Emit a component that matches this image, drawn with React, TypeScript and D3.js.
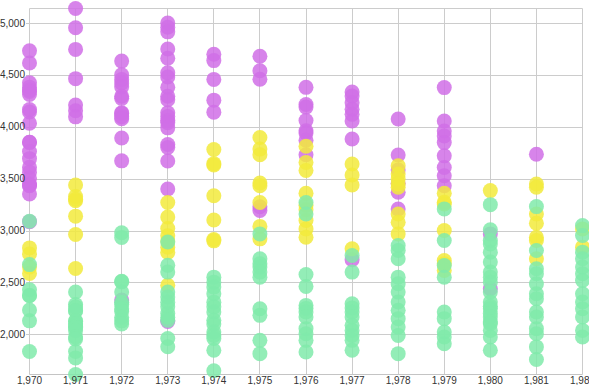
import React from 'react';
import * as d3 from 'd3';

const years = [1970, 1971, 1972, 1973, 1974, 1975, 1976, 1977, 1978, 1979, 1980, 1981, 1982];
const yTicks = [2000, 2500, 3000, 3500, 4000, 4500, 5000];

// weights per year (index aligned with years)
const purpleWeights: number[][] = [
  [4732, 4615, 4425, 4382, 4354, 4341, 4312, 4166, 4142, 4034, 3850, 3850, 3761, 3693, 3609, 3563, 3504, 3449, 3436, 3433, 3353, 3086],
  [5140, 4955, 4746, 4464, 4209, 4154, 4096],
  [4633, 4502, 4456, 4422, 4385, 4294, 4274, 4135, 4129, 4098, 4077, 3892, 3672, 2330],
  [5000, 4960, 4915, 4750, 4660, 4520, 4480, 4380, 4295, 4260, 4135, 4100, 4060, 4040, 3990, 3830, 3800, 3670, 3400, 2124],
  [4699, 4638, 4457, 4257, 4141],
  [4680, 4540, 4458, 3230, 3193],
  [4380, 4215, 4190, 4060, 3962, 3940, 3870, 3730],
  [4335, 4296, 4232, 4168, 4120, 4056, 3882, 2720],
  [4075, 3728, 3584, 3456, 3369, 3208],
  [4378, 4056, 3960, 3912, 3848, 3720, 3608, 3528, 3432],
  [2968, 2439],
  [3735],
  [],
];

const yellowWeights: number[][] = [
  [2833, 2774, 2648, 2587],
  [3439, 3329, 3302, 3288, 3139, 2962, 2634],
  [],
  [3270, 3130, 3020, 2950, 2900, 2840, 2790, 2472],
  [3781, 3645, 3632, 3336, 3102, 2914, 2901],
  [3897, 3785, 3730, 3459, 3432, 3270, 3040, 2920],
  [3813, 3657, 3580, 3360, 3245, 3200, 3097, 3016, 2936],
  [3641, 3535, 3439, 2824],
  [3625, 3545, 3500, 3449, 3417, 3160, 3080, 2968],
  [3359, 3272, 3256, 3000, 2712, 2680, 2616],
  [3385],
  [3449, 3417, 3160, 3070, 2936, 2904, 2728],
  [3016, 2840],
];

const greenWeights: number[][] = [
  [3090, 2672, 2430, 2375, 2372, 2234, 2130, 1835],
  [2408, 2288, 2264, 2228, 2226, 2130, 2126, 2100, 2074, 2065, 2035, 1975, 1955, 1834, 1773, 1613],
  [2979, 2933, 2511, 2506, 2408, 2310, 2288, 2246, 2220, 2164, 2130, 2100],
  [2890, 2665, 2600, 2407, 2360, 2310, 2265, 2200, 2165, 2135, 1960, 1880],
  [2551, 2503, 2455, 2391, 2310, 2265, 2215, 2135, 2100, 2022, 1990, 1960, 1846, 1649],
  [2968, 2728, 2680, 2648, 2600, 2551, 2247, 2183, 1942, 1814],
  [3270, 3160, 2577, 2462, 2279, 2250, 2215, 2167, 2055, 2006, 1942, 1830],
  [2760, 2600, 2295, 2255, 2215, 2167, 2087, 2038, 1990, 1942, 1846],
  [2856, 2808, 2728, 2551, 2487, 2407, 2311, 2231, 2151, 2070, 1990, 1814],
  [3209, 2904, 2664, 2551, 2215, 2151, 2022, 1974, 1910],
  [3250, 3007, 2904, 2870, 2792, 2696, 2600, 2551, 2503, 2407, 2311, 2270, 2247, 2200, 2167, 2120, 2103, 2038, 1974, 1846],
  [3231, 2808, 2632, 2584, 2487, 2391, 2343, 2215, 2167, 2055, 2006, 1879, 1757],
  [3048, 2952, 2792, 2728, 2648, 2584, 2519, 2391, 2311, 2247, 2167, 2038, 1974],
];

const seriesColors = ['#d06ee6', '#f2ea3c', '#80eaaa'];

const W = 589;
const H = 385;

export default function App() {
  const x = d3.scaleLinear().domain([1970, 1982]).range([29.5, 582.5]);
  const y = d3.scaleLinear().domain([1613, 5140]).range([374.5, 8.5]);
  const fmt = d3.format(',');
  const groups = [purpleWeights, yellowWeights, greenWeights];
  const font = '"Liberation Sans", Arial, sans-serif';

  return (
    <svg width={W} height={H} style={{ position: 'absolute', left: 0, top: 0, background: '#fff' }}>
      {/* horizontal grid */}
      {yTicks.map((t) => (
        <line key={'h' + t} x1={26} x2={x(1982)} y1={Math.round(y(t)) + 0.5} y2={Math.round(y(t)) + 0.5} stroke="#cccccc" strokeWidth={1} />
      ))}
      <line x1={x(1970)} x2={x(1982)} y1={y(5140)} y2={y(5140)} stroke="#cccccc" />
      {/* vertical grid */}
      {years.map((yr) => (
        <line key={'v' + yr} x1={Math.round(x(yr) - 0.5) + 0.5} x2={Math.round(x(yr) - 0.5) + 0.5} y1={y(5140)} y2={y(1613)} stroke="#cccccc" />
      ))}
      <line x1={x(1970)} x2={x(1982)} y1={y(1613)} y2={y(1613)} stroke="#c4c4c4" />
      {/* points */}
      {groups.map((g, gi) => (
        <g key={'g' + gi} fill={seriesColors[gi]} fillOpacity={0.85}>
          {g.map((ws, i) => ws.map((w, j) => (
            <circle key={i + '-' + j} cx={x(years[i])} cy={y(w)} r={7.5} />
          )))}
        </g>
      ))}
      {/* y labels */}
      {yTicks.map((t) => (
        <text key={'yl' + t} x={25} y={y(t)} dy="0.35em" textAnchor="end" fontSize={10} fontFamily={font} fill="#333">
          {fmt(t)}
        </text>
      ))}
      {/* x labels */}
      {years.map((yr) => (
        <text key={'xl' + yr} x={x(yr)} y={384} textAnchor="middle" fontSize={10} fontFamily={font} fill="#333">
          {fmt(yr)}
        </text>
      ))}
    </svg>
  );
}
